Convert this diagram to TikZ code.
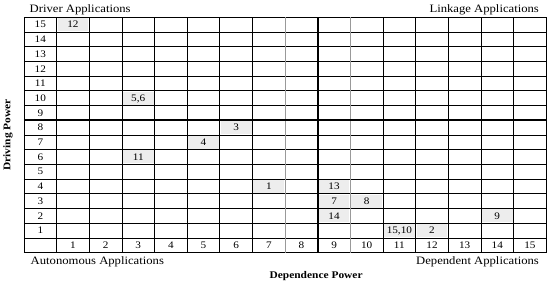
\documentclass[tikz,border=0pt]{standalone}
\usepackage{fontspec}
\setmainfont{Liberation Serif}[FakeStretch=1.12]
\usepackage{tikz}
\usetikzlibrary{positioning}
\tikzset{
  gridline/.style={draw=black, line width=0.7pt},
  fadeline/.style={draw=black!40, line width=0.7pt},
  axisline/.style={draw=black, line width=1.8pt},
  hitcell/.style={fill=black!7},
  cellnum/.style={inner sep=0pt, text depth=0pt, font=\fontsize{10}{12}\selectfont},
  quadlabel/.style={inner sep=0pt, font=\fontsize{11.3}{13}\selectfont},
  axislabel/.style={inner sep=0pt, font=\fontsize{10.2}{12}\selectfont\bfseries}
}

\begin{document}
\begin{tikzpicture}[x=32.64pt, y=14.71pt]
  \useasboundingbox (-0.735,-2.135) rectangle (16.115,17.17);

  % marked cells
  \foreach \c/\r/\t in {1/15/12, 3/10/{5,6}, 6/8/3, 5/7/4, 3/6/11, 7/4/1, 9/4/13,
                        9/3/7, 10/3/8, 9/2/14, 14/2/9, 11/1/{15,10}, 12/1/2}{
    \fill[hitcell] (\c+0.03,\r+0.06) rectangle (\c+0.97,\r+0.94);
    \node[cellnum] (hit-\c-\r) at (\c+0.5,\r+0.5) {\t};
  }

  % grid
  \foreach \i in {0,...,16}
    \draw[gridline] (0,\i) -- (16,\i);
  \foreach \i in {0,...,7,11,12,...,16}
    \draw[gridline] (\i,0) -- (\i,16);
  \draw[fadeline] (8,0) -- (8,16);
  \draw[fadeline] (10,0) -- (10,16);
  \draw[axisline] (0,9) -- (16,9);
  \draw[axisline] (9,0) -- (9,16);

  % row and column numbers
  \foreach \i in {1,...,15}{
    \node[cellnum] (row-\i) at (0.5,\i+0.5) {\i};
    \node[cellnum] (col-\i) at (\i+0.5,0.5) {\i};
  }

  % quadrant names
  \node[quadlabel, anchor=base west] (driver) at (0.17,16.33) {Driver Applications};
  \node[quadlabel, anchor=base east] (linkage) at (15.78,16.33) {Linkage Applications};
  \node[quadlabel, anchor=base west] (autonomous) at (0.2,-0.8) {Autonomous Applications};
  \node[quadlabel, anchor=base east] (dependent) at (15.78,-0.8) {Dependent Applications};

  % axis names
  \node[axislabel, anchor=base] (dependence) at (8.95,-1.75) {Dependence Power};
  \node[axislabel, rotate=90, anchor=center] (driving) at (-0.49,8) {Driving Power};
\end{tikzpicture}
\end{document}
